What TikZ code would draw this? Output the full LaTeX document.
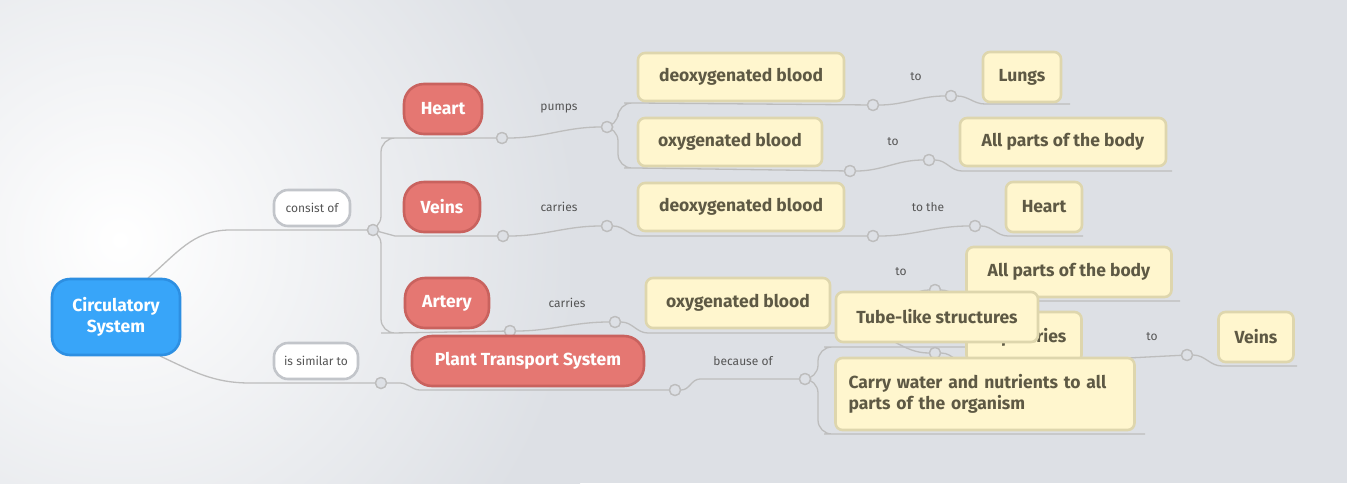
\documentclass[tikz,border=0pt]{standalone}
\usepackage{fontspec}
\setmainfont{Fira Sans}
\begin{document}
\begin{tikzpicture}[x=1pt,y=-1pt,
  ln/.style={draw=lineC,line width=1.3pt},
  dot/.style={circle,draw=lineC,line width=1.3pt,fill=bgC,minimum size=11pt,inner sep=0pt},
  yel/.style={rounded corners=7pt,draw=yelB,line width=2.6pt,fill=yelF,text=txtC,font=\fontsize{17.5}{21.5}\selectfont\bfseries,align=left,inner sep=0pt},
  red/.style={rounded corners=20pt,draw=redB,line width=2.6pt,fill=redF,text=white,font=\fontsize{17.5}{21}\selectfont\bfseries,inner sep=0pt},
  pill/.style={rounded corners=14pt,draw=pillB,line width=2.6pt,fill=white,text=txtG,font=\fontsize{12}{14}\selectfont,inner sep=0pt},
  lab/.style={text=txtG,font=\fontsize{12}{14}\selectfont,inner sep=1pt},
  rc/.style={rounded corners=14pt}]
\definecolor{bgC}{HTML}{DDE0E5}
\definecolor{lineC}{HTML}{BDBDBD}
\definecolor{yelF}{HTML}{FFF6CE}
\definecolor{yelB}{HTML}{DED6AD}
\definecolor{txtC}{HTML}{5E5944}
\definecolor{txtG}{HTML}{555555}
\definecolor{redF}{HTML}{E57772}
\definecolor{redB}{HTML}{C9625E}
\definecolor{pillB}{HTML}{C2C5CA}
\definecolor{bluF}{HTML}{38A5F9}
\definecolor{bluB}{HTML}{2D8FE2}
\useasboundingbox (0,0) rectangle (1347,483);
\fill[bgC] (0,0) rectangle (1347,483);
\begin{scope}
\clip (0,0) rectangle (1347,483);
\shade[inner color=white,outer color=bgC] (-340,-220) rectangle (580,700);
\fill[bgC] (570,0) rectangle (1347,483);
\end{scope}

\node[dot] (j1) at (373,230) {};
\coordinate (heartL) at (395,138);
\coordinate (arteryL) at (395,333);
\node[dot] (h1) at (502,138) {};
\node[lab] (pumps) at (559,109) {pumps};
\node[dot] (h2) at (607,127) {};
\coordinate (deo1L) at (638,103);
\coordinate (oxy1L) at (638,168);
\node[dot] (d1) at (873,105) {};
\node[lab] at (916,77) {to};
\node[dot] (d2) at (951,96) {};
\node[dot] (o1) at (850,171) {};
\node[lab] at (893,142) {to};
\node[dot] (o2) at (929,160) {};
\node[dot] (v1) at (503,236) {};
\node[lab] at (559,207) {carries};
\node[dot] (v2) at (607,226) {};
\node[dot] (e1) at (873,236) {};
\node[lab] at (928,207) {to the};
\node[dot] (e2) at (975,226) {};
\node[dot] (a1) at (510,331) {};
\node[lab] at (567,303) {carries};
\node[dot] (a2) at (615,322) {};
\node[dot] (c0) at (858,333) {};
\node[lab] at (901,272) {to};
\node[dot] (c1) at (935,290) {};
\node[dot] (c2) at (935,353) {};
\node[lab] at (1152,337) {to};
\node[dot] (c3) at (1187,355) {};
\node[dot] (p0) at (381,383) {};
\node[dot] (p1) at (675,390) {};
\node[lab] at (743,361) {because of};
\node[dot] (p2) at (805,379) {};

% connectors
\draw[ln] (148,278) to[out=-40+80,in=180] (230,230) -- (j1);
\draw[ln,rc] (j1) -- (381,230) |- (heartL) -- (h1);
\draw[ln] (j1) -- (395,236) -- (v1);
\draw[ln,rc] (j1) -- (381,230) |- (arteryL) -- (a1);
\draw[ln] (h1) to[out=0,in=180] (h2);
\draw[ln,rc] (h2) -- (618,127) |- (deo1L) -- (d1);
\draw[ln,rc] (h2) -- (618,127) |- (oxy1L) -- (o1);
\draw[ln] (d1) to[out=0,in=180] (d2); \draw[ln] (d2) to[out=0,in=180] (985,104) -- (1070,104);
\draw[ln] (o1) to[out=0,in=180] (o2); \draw[ln] (o2) to[out=0,in=180] (962,171) -- (1172,171);
\draw[ln] (v1) to[out=0,in=180] (v2); \draw[ln] (v2) to[out=0,in=180] (640,236) -- (e1);
\draw[ln] (e1) to[out=0,in=180] (e2); \draw[ln] (e2) to[out=0,in=180] (1008,236) -- (1083,236);
\draw[ln] (a1) to[out=0,in=180] (a2); \draw[ln] (a2) to[out=0,in=180] (648,333) -- (c0);
\draw[ln] (c0) to[out=0,in=180] (c1); \draw[ln] (c1) to[out=0,in=180] (970,301) -- (1180,301);
\draw[ln] (c0) to[out=0,in=180] (c2); \draw[ln] (c2) to[out=0,in=180] (970,366) -- (c3);
\draw[ln] (c3) to[out=0,in=180] (1222,366) -- (1297,366);
\draw[ln] (160,356) to[out=-25,in=180] (250,383) -- (p0);
\draw[ln] (p0) -- (400,383) to[out=0,in=180] (420,390) -- (p1);
\draw[ln] (p1) to[out=0,in=180] (700,379) -- (p2);
\draw[ln,rc] (p2) -- (818,379) |- (838,347) -- (1040,347);
\draw[ln,rc] (p2) -- (818,379) |- (838,434) -- (1145,434);

\foreach \n in {j1,h1,h2,d1,d2,o1,o2,v1,v2,e1,e2,a1,a2,c0,c1,c2,c3,p0,p1,p2}{\node[dot] at (\n) {};}

\node[rounded corners=18pt,draw=bluB,line width=2.6pt,fill=bluF,text=white,font=\fontsize{17.5}{21}\selectfont\bfseries,align=center,minimum width=128pt,minimum height=76pt] (root) at (116,317) {Circulatory\\System};
\node[pill,minimum width=76pt,minimum height=36pt] (consist) at (312,208) {consist of};
\node[pill,minimum width=84pt,minimum height=36pt] (similar) at (316,361) {is similar to};
\node[red,minimum width=78pt,minimum height=50pt] (heart) at (443,109) {Heart};
\node[red,minimum width=76pt,minimum height=50pt] (veins) at (442,207) {Veins};
\node[red,minimum width=84pt,minimum height=50pt] (artery) at (447,303) {Artery};
\node[red,minimum width=232pt,minimum height=50pt] (plant) at (528,361) {Plant Transport System};
\node[yel,minimum width=206pt,minimum height=48pt] (deo1) at (741,77) {deoxygenated blood};
\node[yel,minimum width=78pt,minimum height=50pt] (lungs) at (1022,77) {Lungs};
\node[yel,minimum width=184pt,minimum height=48pt] (oxy1) at (730,142) {oxygenated blood};
\node[yel,minimum width=206pt,minimum height=48pt] (all1) at (1063,142) {All parts of the body};
\node[yel,minimum width=206pt,minimum height=48pt] (deo2) at (741,207) {deoxygenated blood};
\node[yel,minimum width=76pt,minimum height=50pt] (heart2) at (1044,207) {Heart};
\node[yel,minimum width=184pt,minimum height=50pt] (oxy2) at (738,303) {oxygenated blood};
\node[yel,minimum width=205pt,minimum height=50pt] (all2) at (1069,272) {All parts of the body};
\node[yel,minimum width=115pt,minimum height=50pt] (cap) at (1024,337) {Capillaries};
\node[yel,minimum width=75pt,minimum height=50pt] (veins2) at (1256,337) {Veins};
\node[yel,minimum width=202pt,minimum height=50pt] (tube) at (937,317) {Tube-like structures};
\node[yel,minimum width=299pt,minimum height=72pt,text width=273pt] (carry) at (985,394) {Carry water and nutrients to all parts of the organism};
\end{tikzpicture}
\end{document}
